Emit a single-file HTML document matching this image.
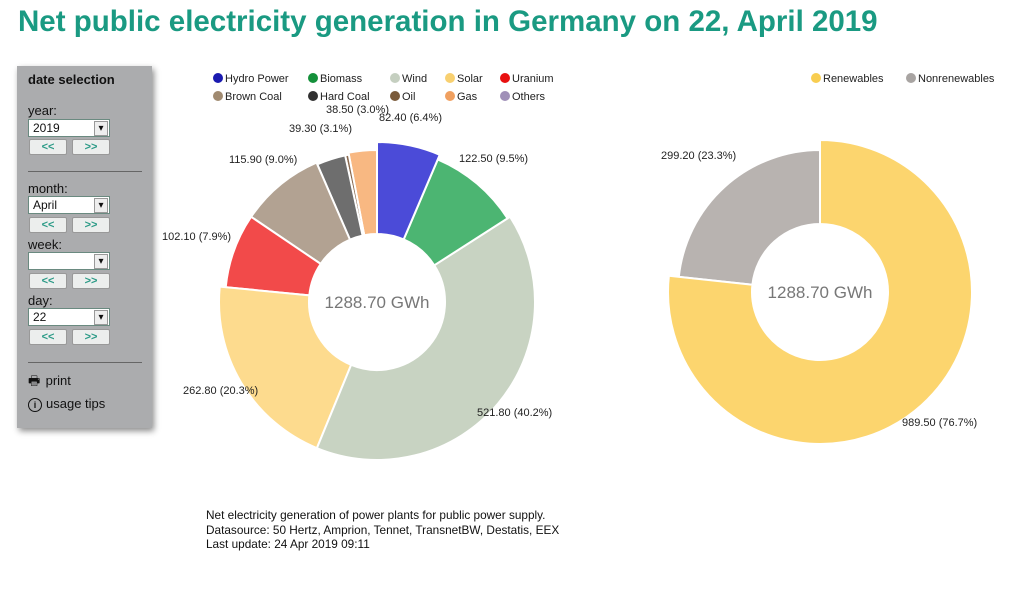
<!DOCTYPE html>
<html><head><meta charset="utf-8"><style>
body{margin:0;width:1024px;height:592px;background:#fff;font-family:"Liberation Sans",Arial,sans-serif;position:relative;overflow:hidden}
h1{position:absolute;left:18px;top:5px;margin:0;font-size:29.5px;font-weight:bold;color:#1a9a82;letter-spacing:0}
#side{position:absolute;left:17px;top:66px;width:135px;height:362px;background:#abacae;box-shadow:2px 3px 6px rgba(0,0,0,0.45);font-size:13px;color:#111}
#side .t{position:absolute;left:11px;top:6px;font-weight:bold;font-size:13px}
.lbl{position:absolute;left:11px;font-size:13px}
.sel{position:absolute;left:11px;width:76px;height:16px;background:#fff;border:1px solid #6a8a80;font-size:12px;line-height:16px;padding-left:4px}
.sel:after{content:"▾";position:absolute;right:1px;top:1px;width:12px;height:13px;background:#eee;border:1px solid #999;font-size:10px;line-height:13px;text-align:center}
.btn{position:absolute;width:36px;height:14px;background:#eceeed;border:1px solid #999;border-radius:2px;font-size:11px;color:#2a9a86;text-align:center;line-height:14px;font-weight:bold}
.hr{position:absolute;left:11px;width:114px;height:1px;background:#666}
.lg{position:absolute;font-size:11px;color:#222}
.lg i{display:inline-block;width:10px;height:10px;border-radius:50%;vertical-align:-1px;margin-right:2px}
.v{position:absolute;font-size:11px;color:#222}
.foot{position:absolute;left:206px;top:508px;font-size:11.8px;color:#111;line-height:14.5px}
</style></head><body>
<h1>Net public electricity generation in Germany on 22, April 2019</h1>
<div id="side">
<div class="t">date selection</div>
<div class="lbl" style="top:37px">year:</div>
<div class="sel" style="top:53px">2019</div>
<div class="btn" style="left:12px;top:73px">&lt;&lt;</div><div class="btn" style="left:55px;top:73px">&gt;&gt;</div>
<div class="hr" style="top:105px"></div>
<div class="lbl" style="top:115px">month:</div>
<div class="sel" style="top:130px">April</div>
<div class="btn" style="left:12px;top:151px">&lt;&lt;</div><div class="btn" style="left:55px;top:151px">&gt;&gt;</div>
<div class="lbl" style="top:171px">week:</div>
<div class="sel" style="top:186px"></div>
<div class="btn" style="left:12px;top:207px">&lt;&lt;</div><div class="btn" style="left:55px;top:207px">&gt;&gt;</div>
<div class="lbl" style="top:227px">day:</div>
<div class="sel" style="top:242px">22</div>
<div class="btn" style="left:12px;top:263px">&lt;&lt;</div><div class="btn" style="left:55px;top:263px">&gt;&gt;</div>
<div class="hr" style="top:296px"></div>
<div class="lbl" style="top:306px"><span style="display:inline-block;width:14px">🖶</span> print</div>
<div class="lbl" style="top:330px"><span style="display:inline-block;width:12px;height:12px;border:1.5px solid #111;border-radius:50%;font-size:9px;text-align:center;line-height:12px;font-weight:bold;margin-right:4px">i</span>usage tips</div>
</div>

<div class="lg" style="left:213px;top:73px"><i style="background:#1a1ab0"></i>Hydro Power</div>
<div class="lg" style="left:308px;top:73px"><i style="background:#14903a"></i>Biomass</div>
<div class="lg" style="left:390px;top:73px"><i style="background:#c5cfc0"></i>Wind</div>
<div class="lg" style="left:445px;top:73px"><i style="background:#f8d070"></i>Solar</div>
<div class="lg" style="left:500px;top:73px"><i style="background:#e81010"></i>Uranium</div>
<div class="lg" style="left:213px;top:91px"><i style="background:#a08a70"></i>Brown Coal</div>
<div class="lg" style="left:308px;top:91px"><i style="background:#303030"></i>Hard Coal</div>
<div class="lg" style="left:390px;top:91px"><i style="background:#7a5a3a"></i>Oil</div>
<div class="lg" style="left:445px;top:91px"><i style="background:#f0a060"></i>Gas</div>
<div class="lg" style="left:500px;top:91px"><i style="background:#a090b8"></i>Others</div>
<div class="lg" style="left:811px;top:73px"><i style="background:#f8cd50"></i>Renewables</div>
<div class="lg" style="left:906px;top:73px"><i style="background:#a8a4a2"></i>Nonrenewables</div>

<svg id="s" width="1024" height="592" style="position:absolute;left:0;top:0">
<text x="377" y="308" font-size="17" fill="#777" text-anchor="middle" font-family="Liberation Sans,sans-serif">1288.70 GWh</text>
<text x="820" y="298" font-size="17" fill="#777" text-anchor="middle" font-family="Liberation Sans,sans-serif">1288.70 GWh</text>
</svg>

<div class="v" style="left:379px;top:112px">82.40 (6.4%)</div>
<div class="v" style="left:326px;top:104px">38.50 (3.0%)</div>
<div class="v" style="left:289px;top:123px">39.30 (3.1%)</div>
<div class="v" style="left:459px;top:153px">122.50 (9.5%)</div>
<div class="v" style="left:229px;top:154px">115.90 (9.0%)</div>
<div class="v" style="left:162px;top:231px">102.10 (7.9%)</div>
<div class="v" style="left:183px;top:385px">262.80 (20.3%)</div>
<div class="v" style="left:477px;top:407px">521.80 (40.2%)</div>
<div class="v" style="left:661px;top:150px">299.20 (23.3%)</div>
<div class="v" style="left:902px;top:417px">989.50 (76.7%)</div>

<div class="foot">Net electricity generation of power plants for public power supply.<br>Datasource: 50 Hertz, Amprion, Tennet, TransnetBW, Destatis, EEX<br>Last update: 24 Apr 2019 09:11</div>
<script>
var s=document.getElementById('s');
function arc(cx,cy,r0,r1,a0,a1,col){
 function p(r,a){return [cx+r*Math.sin(a),cy-r*Math.cos(a)];}
 var L=(a1-a0)>Math.PI?1:0;
 var A=p(r1,a0),B=p(r1,a1),C=p(r0,a1),D=p(r0,a0);
 var d='M'+A+' A'+r1+','+r1+' 0 '+L+' 1 '+B+' L'+C+' A'+r0+','+r0+' 0 '+L+' 0 '+D+'Z';
 var e=document.createElementNS('http://www.w3.org/2000/svg','path');
 e.setAttribute('d',d);e.setAttribute('fill',col);e.setAttribute('stroke','#fff');e.setAttribute('stroke-width','2');e.setAttribute('stroke-linejoin','round');
 s.insertBefore(e,s.firstChild);
}
var L=[[6.4,'#4b4bd8',160],[9.5,'#4cb572',155],[40.2,'#c8d3c2',158],[20.3,'#fddb8e',158],[7.9,'#f24a4a',152],[9.0,'#b2a292',152],[3.1,'#6e6e6e',150],[0.4,'#8a6a50',150],[3.0,'#f8b882',152]];
var tot=0;L.forEach(function(x){tot+=x[0]});
var a=0;L.forEach(function(x){var b=a+x[0]/tot*2*Math.PI;arc(377,302,68,x[2],a,b,x[1]);a=b;});
arc(820,292,68,152,0,0.767*2*Math.PI,'#fcd56e');
arc(820,292,68,142,0.767*2*Math.PI,2*Math.PI,'#b8b3b0');
</script>
</body></html>
